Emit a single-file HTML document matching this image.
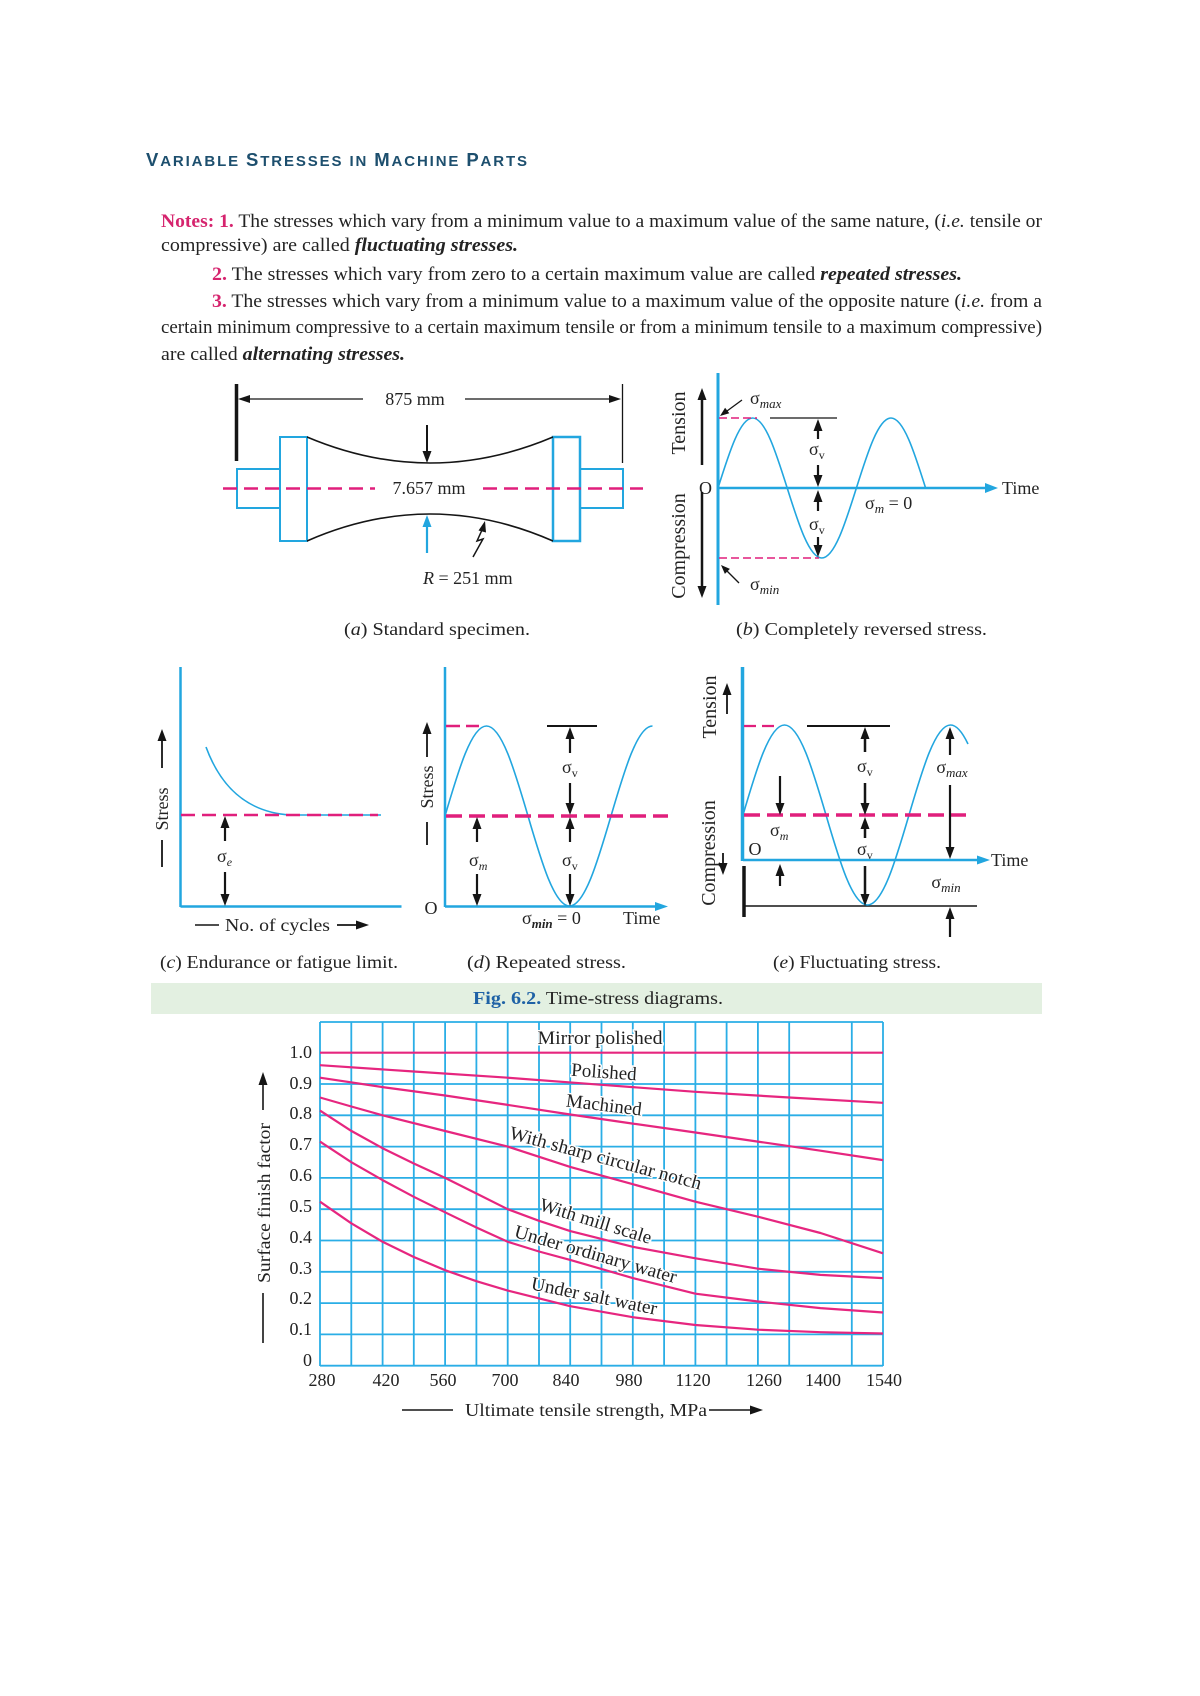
<!DOCTYPE html>
<html><head><meta charset="utf-8"><style>
html,body{margin:0;padding:0;background:#fff}
svg{display:block}
.c{stroke:#22a6df;fill:none}
.m{stroke:#e01f7c;fill:none}
.k{stroke:#151515;fill:none}
.t{font-family:"Liberation Serif",serif;fill:#232323}
.h{fill:#151515;stroke:none}
.hc{fill:#22a6df;stroke:none}
.g{stroke:#2aaee6;stroke-width:1.8;fill:none}
.cv{stroke:#e6267f;stroke-width:2.2;fill:none;stroke-linejoin:round}
.lab{font-family:"Liberation Serif",serif;fill:#222;font-size:19px;stroke:#fff;stroke-width:3px;paint-order:stroke}
</style></head><body>
<svg xmlns="http://www.w3.org/2000/svg" width="1200" height="1696" viewBox="0 0 1200 1696">
<rect width="1200" height="1696" fill="#fff"/>

<!-- Title -->
<text x="146" y="166" font-family="'Liberation Sans',sans-serif" font-weight="bold" fill="#1d4f6e" textLength="381" lengthAdjust="spacing"><tspan font-size="18.5">V</tspan><tspan font-size="15">ARIABLE </tspan><tspan font-size="18.5">S</tspan><tspan font-size="15">TRESSES IN </tspan><tspan font-size="18.5">M</tspan><tspan font-size="15">ACHINE </tspan><tspan font-size="18.5">P</tspan><tspan font-size="15">ARTS</tspan></text>

<!-- Notes -->
<g class="t" font-size="19">
<text x="161" y="227" textLength="881" lengthAdjust="spacingAndGlyphs"><tspan fill="#d6246e" font-weight="bold">Notes: 1.</tspan> The stresses which vary from a minimum value to a maximum value of the same nature, (<tspan font-style="italic">i.e.</tspan> tensile or</text>
<text x="161" y="251" textLength="357" lengthAdjust="spacingAndGlyphs">compressive) are called <tspan font-style="italic" font-weight="bold">fluctuating stresses.</tspan></text>
<text x="212" y="280" textLength="750" lengthAdjust="spacingAndGlyphs"><tspan fill="#d6246e" font-weight="bold">2.</tspan> The stresses which vary from zero to a certain maximum value are called <tspan font-style="italic" font-weight="bold">repeated stresses.</tspan></text>
<text x="212" y="307" textLength="830" lengthAdjust="spacingAndGlyphs"><tspan fill="#d6246e" font-weight="bold">3.</tspan> The stresses which vary from a minimum value to a maximum value of the opposite nature (<tspan font-style="italic">i.e.</tspan> from a</text>
<text x="161" y="333" textLength="881" lengthAdjust="spacingAndGlyphs">certain minimum compressive to a certain maximum tensile or from a minimum tensile to a maximum compressive)</text>
<text x="161" y="360" textLength="244" lengthAdjust="spacingAndGlyphs">are called <tspan font-style="italic" font-weight="bold">alternating stresses.</tspan></text>
</g>

<!-- ===== Fig (a) ===== -->
<line x1="236.5" y1="384" x2="236.5" y2="461" class="k" stroke-width="3.5"/>
<line x1="622.5" y1="384" x2="622.5" y2="463" class="k" stroke-width="1.3"/>
<line x1="240" y1="399" x2="363" y2="399" class="k" stroke-width="1.3"/>
<line x1="465" y1="399" x2="618" y2="399" class="k" stroke-width="1.3"/>
<polygon class="h" points="238,399 250,395 250,403"/>
<polygon class="h" points="621,399 609,395 609,403"/>
<text class="t" x="415" y="405" font-size="18" text-anchor="middle">875 mm</text>
<rect x="237" y="469" width="43" height="39" class="c" stroke-width="2"/>
<rect x="280" y="437" width="27" height="104" class="c" stroke-width="2"/>
<rect x="553" y="437" width="27" height="104" class="c" stroke-width="2.5"/>
<rect x="580" y="469" width="43" height="39" class="c" stroke-width="2"/>
<path d="M307,437 Q430,489 553,437" class="k" stroke-width="1.6"/>
<path d="M307,541 Q430,487 553,541" class="k" stroke-width="1.6"/>
<line x1="223" y1="488.5" x2="375" y2="488.5" class="m" stroke-width="2.5" stroke-dasharray="14 7"/>
<line x1="483" y1="488.5" x2="643" y2="488.5" class="m" stroke-width="2.5" stroke-dasharray="14 7"/>
<text class="t" x="429" y="494" font-size="18" text-anchor="middle">7.657 mm</text>
<line x1="427" y1="425" x2="427" y2="452" class="k" stroke-width="2"/>
<polygon class="h" points="427,463 422.5,451 431.5,451"/>
<line x1="427" y1="553" x2="427" y2="526" class="c" stroke-width="2.2"/>
<polygon class="hc" points="427,515 422.5,527 431.5,527"/>
<path d="M482,530 L477,541 L483,539 L473,557" class="k" stroke-width="1.5"/>
<polygon class="h" points="485,521 478.5,530.5 486,532.5"/>
<text class="t" x="423" y="584" font-size="18"><tspan font-style="italic">R</tspan> = 251 mm</text>
<text class="t" x="344" y="635" font-size="18" textLength="186" lengthAdjust="spacingAndGlyphs">(<tspan font-style="italic">a</tspan>) Standard specimen.</text>

<!-- ===== Fig (b) ===== -->
<line x1="718" y1="373" x2="718" y2="605" class="c" stroke-width="3"/>
<line x1="718" y1="488" x2="988" y2="488" class="c" stroke-width="2.5"/>
<polygon class="hc" points="998,488 985,483 985,493"/>
<text class="t" x="1002" y="494" font-size="18">Time</text>
<text class="t" x="712" y="494" font-size="18" text-anchor="end">O</text>
<path d="M718,488 C729.3,452.1 740.1,418 752.6,418 C765.1,418 775.9,452.1 787.2,488 C798.5,523.9 809.3,558 821.8,558 C834.3,558 845.1,523.9 856.4,488 C867.7,452.1 878.5,418 891,418 C903.5,418 914.3,452.1 925.6,488" class="c" stroke-width="1.6"/>
<line x1="719" y1="418" x2="757" y2="418" class="m" stroke-width="1.6" stroke-dasharray="8 4"/>
<line x1="719" y1="558" x2="819" y2="558" class="m" stroke-width="1.6" stroke-dasharray="8 4"/>
<line x1="770" y1="418" x2="837" y2="418" class="k" stroke-width="1.3"/>
<polygon class="h" points="818,419 813.5,431 822.5,431"/>
<line x1="818" y1="431" x2="818" y2="439" class="k" stroke-width="2.2"/>
<text class="t" x="809" y="455" font-size="18">σ<tspan font-size="12" dy="4">v</tspan></text>
<line x1="818" y1="465" x2="818" y2="476" class="k" stroke-width="2.2"/>
<polygon class="h" points="818,487 813.5,475 822.5,475"/>
<polygon class="h" points="818,490 813.5,502 822.5,502"/>
<line x1="818" y1="502" x2="818" y2="511" class="k" stroke-width="2.2"/>
<text class="t" x="809" y="530" font-size="18">σ<tspan font-size="12" dy="4">v</tspan></text>
<line x1="818" y1="537" x2="818" y2="546" class="k" stroke-width="2.2"/>
<polygon class="h" points="818,557 813.5,545 822.5,545"/>
<text class="t" x="750" y="404" font-size="18">σ<tspan font-size="13" font-style="italic" dy="4">max</tspan></text>
<line x1="742" y1="400" x2="727" y2="411" class="k" stroke-width="1.3"/>
<polygon class="h" points="720,416 729.3,413.3 725.1,407.7"/>
<text class="t" x="750" y="590" font-size="18">σ<tspan font-size="13" font-style="italic" dy="4">min</tspan></text>
<line x1="739" y1="583" x2="726" y2="570" class="k" stroke-width="1.3"/>
<polygon class="h" points="721,565 729.9,568.9 724.9,573.9"/>
<text class="t" x="865" y="509" font-size="18">σ<tspan font-size="13" font-style="italic" dy="4">m</tspan><tspan dy="-4"> = 0</tspan></text>
<text class="t" font-size="20" text-anchor="middle" transform="rotate(-90 679 423)" x="679" y="429">Tension</text>
<text class="t" font-size="20" text-anchor="middle" transform="rotate(-90 679 546)" x="679" y="552">Compression</text>
<line x1="702" y1="399" x2="702" y2="465" class="k" stroke-width="2.5"/>
<polygon class="h" points="702,388 697.5,400 706.5,400"/>
<line x1="702" y1="492" x2="702" y2="587" class="k" stroke-width="2.5"/>
<polygon class="h" points="702,598 697.5,586 706.5,586"/>
<text class="t" x="736" y="635" font-size="18" textLength="251" lengthAdjust="spacingAndGlyphs">(<tspan font-style="italic">b</tspan>) Completely reversed stress.</text>

<!-- ===== Fig (c) ===== -->
<line x1="180.5" y1="667" x2="180.5" y2="907" class="c" stroke-width="2.5"/>
<line x1="180.5" y1="906.5" x2="401.5" y2="906.5" class="c" stroke-width="2.5"/>
<path d="M206,747 C220,785 245,812 290,815 L381,815" class="c" stroke-width="1.6"/>
<line x1="181" y1="815" x2="378" y2="815" class="m" stroke-width="2.5" stroke-dasharray="14 7"/>
<polygon class="h" points="225,816 220.5,828 229.5,828"/>
<line x1="225" y1="828" x2="225" y2="841" class="k" stroke-width="2.2"/>
<text class="t" x="217" y="862" font-size="18">σ<tspan font-size="12" font-style="italic" dy="4">e</tspan></text>
<line x1="225" y1="872" x2="225" y2="895" class="k" stroke-width="2.2"/>
<polygon class="h" points="225,906 220.5,894 229.5,894"/>
<text class="t" font-size="18" text-anchor="middle" transform="rotate(-90 162 809)" x="162" y="815">Stress</text>
<line x1="162" y1="741" x2="162" y2="768" class="k" stroke-width="1.8"/>
<polygon class="h" points="162,729 157.5,741 166.5,741"/>
<line x1="162" y1="840" x2="162" y2="867" class="k" stroke-width="1.8"/>
<line x1="195" y1="925" x2="219" y2="925" class="k" stroke-width="1.5"/>
<text class="t" x="225" y="931" font-size="18" textLength="105" lengthAdjust="spacingAndGlyphs">No. of cycles</text>
<line x1="337" y1="925" x2="358" y2="925" class="k" stroke-width="1.8"/>
<polygon class="h" points="369,925 356,920.5 356,929.5"/>
<text class="t" x="160" y="968" font-size="18" fill="#333" textLength="238" lengthAdjust="spacingAndGlyphs">(<tspan font-style="italic">c</tspan>) Endurance or fatigue limit.</text>

<!-- ===== Fig (d) ===== -->
<line x1="445" y1="667" x2="445" y2="907" class="c" stroke-width="2.5"/>
<line x1="445" y1="906.5" x2="658" y2="906.5" class="c" stroke-width="2.5"/>
<polygon class="hc" points="668,906.5 655,902 655,911"/>
<text class="t" x="431" y="914" font-size="18" text-anchor="middle">O</text>
<path d="M445,816 C458.5,769.9 471.5,726 486.5,726 C501.5,726 514.5,769.9 528,816 C541.5,862.1 554.5,906 569.5,906 C584.5,906 597.5,862.1 611,816 C624.5,769.9 637.5,726 652.5,726" class="c" stroke-width="1.6"/>
<line x1="446" y1="726" x2="479" y2="726" class="m" stroke-width="2.5" stroke-dasharray="14 6"/>
<line x1="446" y1="816" x2="668" y2="816" class="m" stroke-width="3.5" stroke-dasharray="16 7"/>
<line x1="547" y1="726" x2="597" y2="726" class="k" stroke-width="2"/>
<polygon class="h" points="570,727 565.5,739 574.5,739"/>
<line x1="570" y1="739" x2="570" y2="753" class="k" stroke-width="2.2"/>
<text class="t" x="562" y="773" font-size="18">σ<tspan font-size="12" dy="4">v</tspan></text>
<line x1="570" y1="783" x2="570" y2="804" class="k" stroke-width="2.2"/>
<polygon class="h" points="570,815 565.5,803 574.5,803"/>
<polygon class="h" points="570,817 565.5,829 574.5,829"/>
<line x1="570" y1="829" x2="570" y2="842" class="k" stroke-width="2.2"/>
<text class="t" x="562" y="866" font-size="18" fill="#444">σ<tspan font-size="12" dy="4">v</tspan></text>
<line x1="570" y1="874" x2="570" y2="895" class="k" stroke-width="2.2"/>
<polygon class="h" points="570,906 565.5,894 574.5,894"/>
<polygon class="h" points="477,817 472.5,829 481.5,829"/>
<line x1="477" y1="829" x2="477" y2="842" class="k" stroke-width="2.2"/>
<text class="t" x="469" y="866" font-size="18" fill="#444">σ<tspan font-size="12" font-style="italic" dy="4">m</tspan></text>
<line x1="477" y1="874" x2="477" y2="895" class="k" stroke-width="2.2"/>
<polygon class="h" points="477,906 472.5,894 481.5,894"/>
<text class="t" font-size="18" text-anchor="middle" transform="rotate(-90 427 787)" x="427" y="793">Stress</text>
<line x1="427" y1="734" x2="427" y2="757" class="k" stroke-width="1.8"/>
<polygon class="h" points="427,722 422.5,734 431.5,734"/>
<line x1="427" y1="822" x2="427" y2="845" class="k" stroke-width="1.8"/>
<text class="t" x="522" y="924" font-size="18">σ<tspan font-size="13" font-style="italic" font-weight="bold" dy="4">min</tspan><tspan dy="-4"> = 0</tspan></text>
<text class="t" x="623" y="924" font-size="18" fill="#444">Time</text>
<text class="t" x="467" y="968" font-size="18" fill="#333" textLength="159" lengthAdjust="spacingAndGlyphs">(<tspan font-style="italic">d</tspan>) Repeated stress.</text>

<!-- ===== Fig (e) ===== -->
<line x1="742.5" y1="667" x2="742.5" y2="861" class="c" stroke-width="3.5"/>
<line x1="743" y1="860" x2="980" y2="860" class="c" stroke-width="2.5"/>
<polygon class="hc" points="990,860 977,855.5 977,864.5"/>
<text class="t" x="991" y="866" font-size="18">Time</text>
<text class="t" x="755" y="855" font-size="18" text-anchor="middle">O</text>
<line x1="744" y1="866" x2="744" y2="917" class="k" stroke-width="3.5"/>
<line x1="744" y1="906" x2="977" y2="906" class="k" stroke-width="1.5"/>
<path d="M743,815 C756.5,768.9 769.5,725 784.5,725 C799.5,725 812.5,768.9 826,815 C839.5,861.1 852.5,905 867.5,905 C882.5,905 895.5,861.1 909,815 C922.5,768.9 935.5,725 950.5,725 C957,725 963,733.5 968,744" class="c" stroke-width="1.6"/>
<line x1="744" y1="726" x2="774" y2="726" class="m" stroke-width="2.2" stroke-dasharray="12 6"/>
<line x1="744" y1="815" x2="966" y2="815" class="m" stroke-width="3.5" stroke-dasharray="16 7"/>
<line x1="807" y1="726" x2="890" y2="726" class="k" stroke-width="2"/>
<polygon class="h" points="865,727 860.5,739 869.5,739"/>
<line x1="865" y1="739" x2="865" y2="752" class="k" stroke-width="2.5"/>
<text class="t" x="857" y="772" font-size="18">σ<tspan font-size="12" dy="4">v</tspan></text>
<line x1="865" y1="783" x2="865" y2="804" class="k" stroke-width="2.5"/>
<polygon class="h" points="865,815 860.5,803 869.5,803"/>
<polygon class="h" points="865,817 860.5,829 869.5,829"/>
<line x1="865" y1="829" x2="865" y2="838" class="k" stroke-width="2.5"/>
<text class="t" x="857" y="855" font-size="18">σ<tspan font-size="12" dy="4">v</tspan></text>
<line x1="865" y1="866" x2="865" y2="895" class="k" stroke-width="2.5"/>
<polygon class="h" points="865,906 860.5,894 869.5,894"/>
<polygon class="h" points="950,727 945.5,739 954.5,739"/>
<line x1="950" y1="739" x2="950" y2="755" class="k" stroke-width="2.2"/>
<text class="t" x="952" y="773" font-size="18" text-anchor="middle">σ<tspan font-size="13" font-style="italic" dy="4">max</tspan></text>
<line x1="950" y1="785" x2="950" y2="848" class="k" stroke-width="2.2"/>
<polygon class="h" points="950,859 945.5,847 954.5,847"/>
<polygon class="h" points="950,907 945.5,919 954.5,919"/>
<line x1="950" y1="919" x2="950" y2="937" class="k" stroke-width="2.2"/>
<text class="t" x="946" y="888" font-size="18" text-anchor="middle">σ<tspan font-size="13" font-style="italic" dy="4">min</tspan></text>
<line x1="780" y1="776" x2="780" y2="804" class="k" stroke-width="2.2"/>
<polygon class="h" points="780,815 775.5,803 784.5,803"/>
<text class="t" x="770" y="836" font-size="18">σ<tspan font-size="12" font-style="italic" dy="4">m</tspan></text>
<polygon class="h" points="780,864 775.5,876 784.5,876"/>
<line x1="780" y1="876" x2="780" y2="886" class="k" stroke-width="2.2"/>
<text class="t" font-size="20" text-anchor="middle" transform="rotate(-90 710 707)" x="710" y="713">Tension</text>
<line x1="727" y1="694" x2="727" y2="714" class="k" stroke-width="1.8"/>
<polygon class="h" points="727,683 722.5,695 731.5,695"/>
<text class="t" font-size="20" text-anchor="middle" transform="rotate(-90 709 853)" x="709" y="859" fill="#444">Compression</text>
<line x1="723" y1="853" x2="723" y2="864" class="k" stroke-width="1.8"/>
<polygon class="h" points="723,875 718.5,863 727.5,863"/>
<text class="t" x="773" y="968" font-size="18" fill="#333" textLength="168" lengthAdjust="spacingAndGlyphs">(<tspan font-style="italic">e</tspan>) Fluctuating stress.</text>

<!-- Caption band -->
<rect x="151" y="983" width="891" height="31" fill="#e3f0e1"/>
<text class="t" x="473" y="1004" font-size="18" textLength="250" lengthAdjust="spacingAndGlyphs"><tspan fill="#1f62a6" font-weight="bold">Fig. 6.2.</tspan> Time-stress diagrams.</text>

<!-- ===== Chart ===== -->
<g class="g">
<line x1="320" y1="1022" x2="320" y2="1366"/>
<line x1="351.3" y1="1022" x2="351.3" y2="1366"/>
<line x1="382.6" y1="1022" x2="382.6" y2="1366"/>
<line x1="413.8" y1="1022" x2="413.8" y2="1366"/>
<line x1="445.1" y1="1022" x2="445.1" y2="1366"/>
<line x1="476.4" y1="1022" x2="476.4" y2="1366"/>
<line x1="507.7" y1="1022" x2="507.7" y2="1366"/>
<line x1="539" y1="1022" x2="539" y2="1366"/>
<line x1="570.2" y1="1022" x2="570.2" y2="1366"/>
<line x1="601.5" y1="1022" x2="601.5" y2="1366"/>
<line x1="632.8" y1="1022" x2="632.8" y2="1366"/>
<line x1="664.1" y1="1022" x2="664.1" y2="1366"/>
<line x1="695.4" y1="1022" x2="695.4" y2="1366"/>
<line x1="726.6" y1="1022" x2="726.6" y2="1366"/>
<line x1="757.9" y1="1022" x2="757.9" y2="1366"/>
<line x1="789.2" y1="1022" x2="789.2" y2="1366"/>
<line x1="851.8" y1="1022" x2="851.8" y2="1366"/>
<line x1="883" y1="1022" x2="883" y2="1366"/>
<line x1="320" y1="1022" x2="883" y2="1022"/>
<line x1="320" y1="1084" x2="883" y2="1084"/>
<line x1="320" y1="1115.3" x2="883" y2="1115.3"/>
<line x1="320" y1="1146.6" x2="883" y2="1146.6"/>
<line x1="320" y1="1177.9" x2="883" y2="1177.9"/>
<line x1="320" y1="1209.2" x2="883" y2="1209.2"/>
<line x1="320" y1="1240.5" x2="883" y2="1240.5"/>
<line x1="320" y1="1271.8" x2="883" y2="1271.8"/>
<line x1="320" y1="1303.1" x2="883" y2="1303.1"/>
<line x1="320" y1="1334.4" x2="883" y2="1334.4"/>
<line x1="320" y1="1365.7" x2="883" y2="1365.7"/>
</g>

<!-- curves -->
<line x1="320" y1="1052.7" x2="883" y2="1052.7" class="cv" stroke-width="2.6"/>
<polyline class="cv" points="320,1065.2 413.8,1071.5 507.7,1077.7 601.5,1084.8 695.4,1091.8 789.2,1097.5 883,1102.8"/>
<polyline class="cv" points="320,1077.7 382.6,1087.1 445.1,1095.5 507.7,1104.9 570.2,1114.5 632.8,1123.6 695.4,1132.5 757.9,1141.6 820.5,1150.7 883,1160.1"/>
<polyline class="cv" points="320,1097.5 351.3,1106.5 382.6,1115.3 445.1,1131 507.7,1146.6 570.2,1166.9 632.8,1184.2 695.4,1201.7 757.9,1216.7 820.5,1233 883,1253.3"/>
<polyline class="cv" points="320,1110.6 351.3,1130.9 382.6,1148.2 413.8,1163.5 445.1,1177.9 476.4,1193.5 507.7,1209.2 539,1220.8 570.2,1231.1 632.8,1246.8 695.4,1258.3 757.9,1268.7 820.5,1274.9 883,1278.1"/>
<polyline class="cv" points="320,1141.6 351.3,1162.2 382.6,1180.1 413.8,1196.8 445.1,1212.3 476.4,1227.5 507.7,1241.8 539,1251.5 570.2,1259.9 632.8,1278.1 695.4,1293.7 757.9,1301.5 820.5,1308.1 883,1312.5"/>
<polyline class="cv" points="320,1201.7 351.3,1223.3 382.6,1241.8 413.8,1257 445.1,1270.2 476.4,1281.2 507.7,1290.6 570.2,1306.2 632.8,1317.2 695.4,1325 757.9,1329.7 820.5,1332.2 883,1333.5"/>

<!-- curve labels -->
<text class="lab" x="600" y="1044" text-anchor="middle" textLength="125" lengthAdjust="spacingAndGlyphs">Mirror polished</text>
<text class="lab" x="604" y="1078" text-anchor="middle" transform="rotate(4 604 1072)">Polished</text>
<text class="lab" x="604" y="1111" text-anchor="middle" transform="rotate(7 604 1105)">Machined</text>
<text class="lab" x="604" y="1164" text-anchor="middle" transform="rotate(15 604 1164)" textLength="198" lengthAdjust="spacingAndGlyphs">With sharp circular notch</text>
<text class="lab" x="594" y="1227" text-anchor="middle" transform="rotate(17 594 1227)" textLength="116" lengthAdjust="spacingAndGlyphs">With mill scale</text>
<text class="lab" x="594" y="1260" text-anchor="middle" transform="rotate(16 594 1260)" textLength="168" lengthAdjust="spacingAndGlyphs">Under ordinary water</text>
<text class="lab" x="593" y="1302" text-anchor="middle" transform="rotate(11.5 593 1302)" textLength="128" lengthAdjust="spacingAndGlyphs">Under salt water</text>

<!-- y tick labels -->
<g class="t" font-size="18" text-anchor="end" fill="#333">
<text x="312" y="1058">1.0</text>
<text x="312" y="1089">0.9</text>
<text x="312" y="1119">0.8</text>
<text x="312" y="1150">0.7</text>
<text x="312" y="1181">0.6</text>
<text x="312" y="1212">0.5</text>
<text x="312" y="1243">0.4</text>
<text x="312" y="1274">0.3</text>
<text x="312" y="1304">0.2</text>
<text x="312" y="1335">0.1</text>
<text x="312" y="1366">0</text>
</g>
<!-- x tick labels -->
<g class="t" font-size="18" text-anchor="middle" fill="#333">
<text x="322" y="1386">280</text>
<text x="386" y="1386">420</text>
<text x="443" y="1386">560</text>
<text x="505" y="1386">700</text>
<text x="566" y="1386">840</text>
<text x="629" y="1386">980</text>
<text x="693" y="1386">1120</text>
<text x="764" y="1386">1260</text>
<text x="823" y="1386">1400</text>
<text x="884" y="1386">1540</text>
</g>

<!-- axis titles -->
<text class="t" font-size="18" text-anchor="middle" transform="rotate(-90 264 1203)" x="264" y="1209" textLength="160" lengthAdjust="spacingAndGlyphs">Surface finish factor</text>
<line x1="263" y1="1293" x2="263" y2="1343" class="k" stroke-width="1.6"/>
<line x1="263" y1="1084" x2="263" y2="1110" class="k" stroke-width="1.6"/>
<polygon class="h" points="263,1072 258.5,1085 267.5,1085"/>
<line x1="402" y1="1410" x2="453" y2="1410" class="k" stroke-width="1.6"/>
<text class="t" x="465" y="1416" font-size="18" textLength="242" lengthAdjust="spacingAndGlyphs">Ultimate tensile strength, MPa</text>
<line x1="709" y1="1410" x2="752" y2="1410" class="k" stroke-width="1.6"/>
<polygon class="h" points="763,1410 750,1405.5 750,1414.5"/>
</svg>
</body></html>
